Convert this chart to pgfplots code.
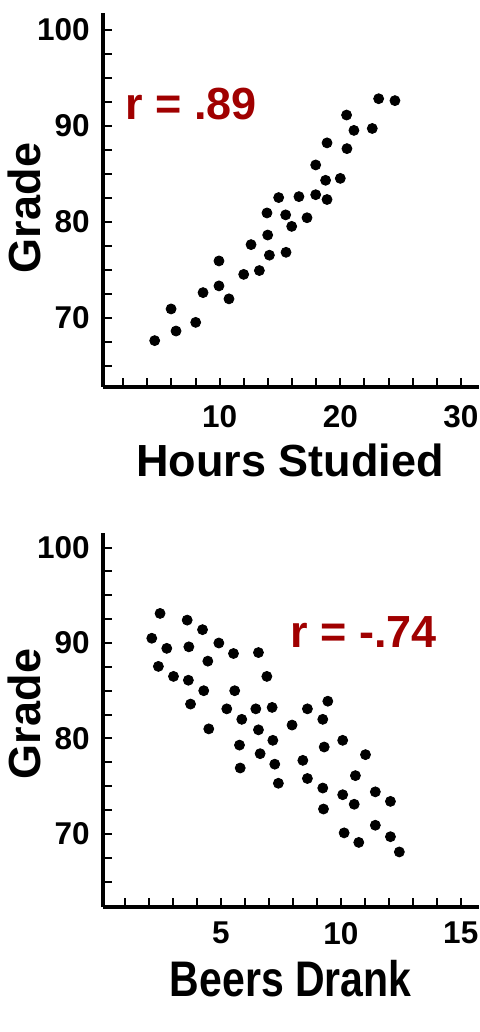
\documentclass[border=0pt]{standalone}
\usepackage{pgfplots}
\pgfplotsset{compat=1.18}
\usepackage{fontspec}
\setmainfont{Liberation Sans}
\newfontfamily\narrowfont[FakeStretch=0.82]{Liberation Sans}
\definecolor{rred}{RGB}{160,0,0}
\pgfplotsset{
  myaxis/.style={
    scale only axis,
    axis lines=left,
    axis line style={-, line width=2pt, black},
    tick align=inside,
    major tick length=4.5pt, minor tick length=4.5pt,
    every tick/.style={black, line width=1pt},
    /pgf/number format/assume math mode=true,
    ticklabel style={font=\fontsize{15.75}{16}\selectfont\bfseries, inner sep=0pt},
    clip=false,
    ytick={70,80,90,100},
    minor ytick={65,67.5,72.5,75,77.5,82.5,85,87.5,92.5,95,97.5},
  },
  dots/.style={only marks, mark=*, mark size=2.5pt, black, mark options={fill=black, draw=black}},
}
\begin{document}
\begin{tikzpicture}
\useasboundingbox (0,0) rectangle (240pt,516pt);
% top
\begin{axis}[myaxis,
  at={(51.35pt,322.65pt)}, anchor=south west,
  width=188.15pt, height=186.7pt,
  xmin=0.3, xmax=31.5, ymin=62.8, ymax=101.7,
  xtick={10,20,30}, minor xtick={2,4,6,8,12,14,16,18,22,24,26,28},
  xticklabel style={anchor=north, yshift=-9.15pt},
  yticklabel style={anchor=east, xshift=-6.3pt},
]
\addplot[dots] coordinates {
(4.61,67.6) (5.97,70.9) (6.38,68.6) (8.01,69.5) (8.62,72.6) (9.94,75.9) (9.94,73.3)
(10.77,71.95) (11.99,74.5) (12.6,77.6) (13.29,74.9) (13.92,80.9) (13.98,78.6) (14.12,76.5)
(14.89,82.5) (15.47,80.7) (15.5,76.8) (15.97,79.5) (16.57,82.6) (17.24,80.4) (17.96,85.9)
(17.96,82.8) (18.78,84.3) (18.9,88.2) (18.9,82.3) (20.0,84.5) (20.52,91.1) (20.55,87.6)
(21.13,89.5) (22.65,89.7) (23.18,92.8) (24.53,92.6)
};
\end{axis}
% bottom
\begin{axis}[myaxis,
  at={(51.35pt,62.35pt)}, anchor=south west,
  width=188.15pt, height=187pt,
  xmin=0.08, xmax=15.76, ymin=62.3, ymax=101.5,
  xtick={5,10,15}, minor xtick={1,2,3,4,6,7,8,9,11,12,13,14},
  xticklabel style={anchor=north, yshift=-7.2pt},
  yticklabel style={anchor=east, xshift=-6.3pt},
]
\addplot[dots] coordinates {
(2.47,93.1) (2.125,90.5) (2.75,89.44) (2.40,87.55) (3.03,86.5) (3.6,92.4) (3.67,89.6)
(3.65,86.1) (3.74,83.6) (4.24,91.4) (4.46,88.1) (4.29,85.0) (4.5,81.0) (4.92,90.0)
(5.53,88.9) (5.58,85.0) (5.25,83.1) (5.875,82.0) (5.78,79.3) (5.81,76.9) (6.57,89.0)
(6.92,86.5) (6.46,83.1) (7.14,83.25) (6.57,80.9) (7.17,79.8) (6.64,78.4) (7.25,77.3)
(7.4,75.3) (7.97,81.4) (8.61,83.1) (9.25,82.0) (9.46,83.9) (8.42,77.7) (8.61,75.8)
(9.31,79.1) (9.25,74.8) (9.28,72.6) (10.08,79.8) (10.08,74.1) (10.14,70.1) (10.61,76.1)
(10.56,73.1) (10.75,69.1) (11.03,78.3) (11.44,74.4) (11.44,70.9) (12.07,73.4) (12.07,69.7)
(12.44,68.1)
};
\end{axis}
% labels
\node[anchor=base, inner sep=0pt, font=\fontsize{22.5}{24}\selectfont\bfseries] at (145pt,277.5pt) {Hours Studied};
\node[anchor=base, inner sep=0pt, font=\fontsize{25}{26}\selectfont\narrowfont\bfseries] at (145.35pt,17.65pt) {Beers Drank};
\node[anchor=base, rotate=90, inner sep=0pt, font=\fontsize{22.5}{24}\selectfont\bfseries] at (20.5pt,412pt) {Grade};
\node[anchor=base, rotate=90, inner sep=0pt, font=\fontsize{22.5}{24}\selectfont\bfseries] at (20.5pt,159pt) {Grade};
\node[anchor=base west, inner sep=0pt, text=rred, font=\fontsize{22.5}{24}\selectfont\bfseries] at (62.5pt,456pt) {r = .89};
\node[anchor=base west, inner sep=0pt, text=rred, font=\fontsize{22.5}{24}\selectfont\bfseries] at (145pt,192.35pt) {r = -.74};
\end{tikzpicture}
\end{document}
